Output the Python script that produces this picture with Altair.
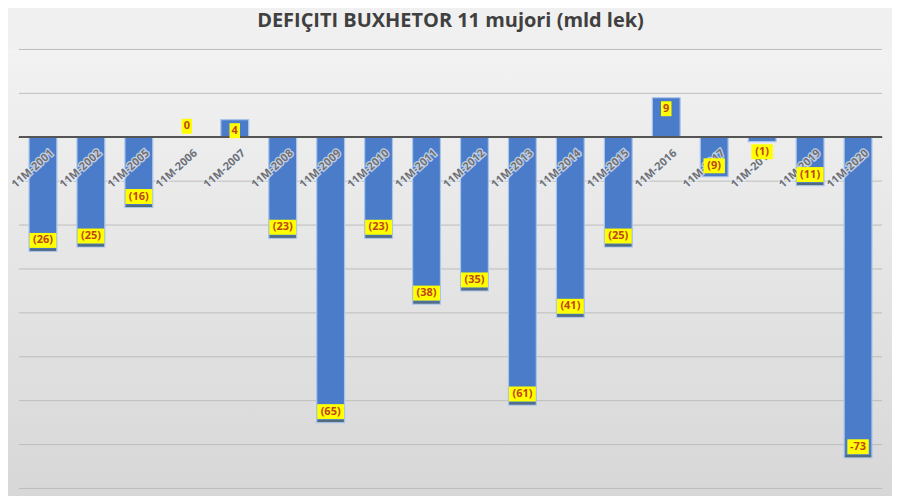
import altair as alt
import pandas as pd

categories = ["11M-2001", "11M-2002", "11M-2005", "11M-2006", "11M-2007", "11M-2008",
              "11M-2009", "11M-2010", "11M-2011", "11M-2012", "11M-2013", "11M-2014",
              "11M-2015", "11M-2016", "11M-2017", "11M-2018", "11M-2019", "11M-2020"]
values = [-26, -25, -16, 0, 4, -23, -65, -23, -38, -35, -61, -41, -25, 9, -9, -1, -11, -73]
labels = ["(26)", "(25)", "(16)", "0", "4", "(23)", "(65)", "(23)", "(38)", "(35)", "(61)",
          "(41)", "(25)", "9", "(9)", "(1)", "(11)", "-73"]
grid_values = [20, 10, -10, -20, -30, -40, -50, -60, -70, -80]

df = pd.DataFrame({"cat": categories, "val": values, "lab": labels})
df["boxw"] = df["lab"].str.len() * 5.5 + 5
grid_df = pd.DataFrame({"g": grid_values})

W, H = 865, 440
xscale = alt.Scale(paddingInner=0.42, paddingOuter=0.21)
yscale = alt.Scale(domain=[-80, 20], nice=False)
X = alt.X("cat:N", sort=categories, scale=xscale, axis=None)

base = alt.Chart(df)

bg = base.mark_rect(
    color=alt.Gradient(gradient="linear", x1=0, y1=0, x2=0, y2=1,
                       stops=[alt.GradientStop(color="#f2f2f2", offset=0),
                              alt.GradientStop(color="#d6d6d6", offset=1)])
).encode(x=alt.value(-11), x2=alt.value(W + 30), y=alt.value(0), y2=alt.value(H + 30))

grid = alt.Chart(grid_df).mark_rule(color="#bdbdbd", strokeWidth=1).encode(
    y=alt.Y("g:Q", scale=yscale, axis=None), x=alt.value(0), x2=alt.value(W))

bars = base.mark_bar(color="#4a7cc9", stroke="#a9c4eb", strokeWidth=1.2).encode(
    x=X,
    y=alt.Y("val:Q", scale=yscale, axis=None),
    y2=alt.datum(0),
)

zero = base.transform_calculate(z="0").mark_rule(color="#555555", strokeWidth=1.5).encode(
    y=alt.Y("z:Q", scale=yscale), x=alt.value(0), x2=alt.value(W))

label_style = dict(angle=318, align="right", baseline="middle", dx=-3, dy=17,
                   font="Open Sans", fontSize=11, fontWeight="bold")

xhalo = base.transform_calculate(z="0").mark_text(
    stroke="#e8eef8", strokeWidth=2.5, strokeOpacity=0.7, color="#e8eef8",
    **label_style).encode(x=X, y=alt.Y("z:Q", scale=yscale), text="cat:N")

xlabels = base.transform_calculate(z="0").mark_text(
    color="#707070", **label_style).encode(
    x=X, y=alt.Y("z:Q", scale=yscale), text="cat:N")

edge = base.transform_filter("datum.val <= -10").transform_calculate(
    ey="datum.val + 0.35").mark_tick(color="#56625a", thickness=2, size=26).encode(
    x=X, y=alt.Y("ey:Q", scale=yscale))

pos = "datum.val > 0 ? datum.val - 2.5 : (datum.val == 0 ? 2.5 : (datum.val > -3 ? datum.val - 2.3 : datum.val + 2.5))"

boxes = base.transform_calculate(by=pos).mark_tick(
    color="#ffff00", thickness=15, opacity=1).encode(
    x=X, y=alt.Y("by:Q", scale=yscale), size=alt.Size("boxw:Q", scale=None))

texts = base.transform_calculate(by=pos).mark_text(
    color="#c0451b", fontWeight="bold", fontSize=11, font="Open Sans",
    baseline="middle", align="center").encode(
    x=X, y=alt.Y("by:Q", scale=yscale), text="lab:N")

chart = alt.layer(bg, grid, bars, zero, xhalo, xlabels, edge, boxes, texts).properties(
    width=W, height=H,
    title=alt.TitleParams(text="DEFIÇITI BUXHETOR 11 mujori (mld lek)", fontSize=20,
                          font="Open Sans", fontWeight="bold", color="#404040",
                          anchor="middle", offset=18),
    padding={"left": 11, "top": 41, "right": 10, "bottom": 10},
    autosize=alt.AutoSizeParams(type="none"),
).configure(background="#f0f0f0").configure_view(stroke=None)

chart.save("out.html", embed_options={"renderer": "svg", "actions": False})
